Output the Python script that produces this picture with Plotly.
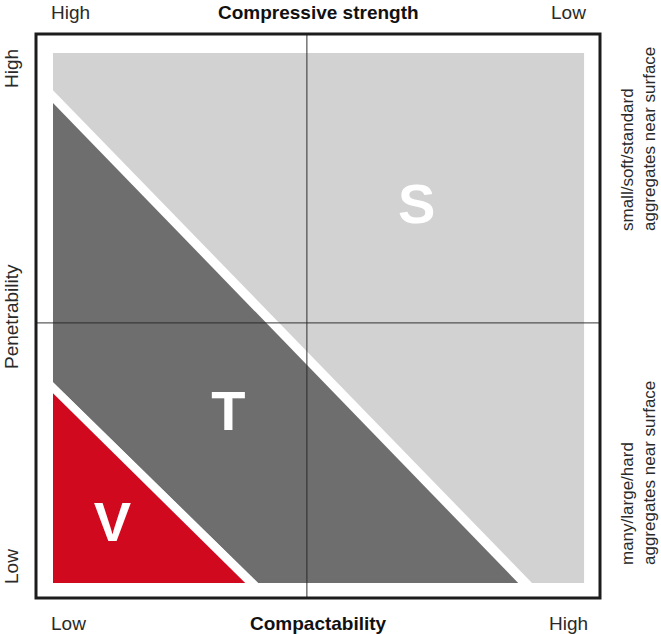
import plotly.graph_objects as go

# zone outlines, in percent of the inner square
s_x = [0, 100, 100, 0]
s_y = [0, 0, 100, 100]
gap_x = [0, 90.2, 0]
gap_y = [0, 0, 93.0]
t_x = [0, 87.6, 38.6, 0]
t_y = [90.6, 0, 0, 37.9]
gap2_x = [0, 38.6, 0]
gap2_y = [0, 0, 37.9]
v_x = [0, 36.2, 0]
v_y = [0, 0, 35.8]

zone_labels = ["S", "T", "V"]
zone_lx = [68.5, 33.0, 11.2]
zone_ly = [70.5, 31.5, 10.5]

cross_x = 47.8
cross_y = 49.1

LIGHT = "#d2d2d2"
DARK = "#6e6e6e"
RED = "#d0091f"

fig = go.Figure()


def poly(xs, ys, color):
    fig.add_trace(go.Scatter(x=xs, y=ys, fill="toself", fillcolor=color,
                             mode="lines", line=dict(width=0),
                             hoverinfo="skip", showlegend=False))


poly(s_x, s_y, LIGHT)
poly(gap_x, gap_y, "white")
poly(t_x, t_y, DARK)
poly(gap2_x, gap2_y, "white")
poly(v_x, v_y, RED)

fig.add_trace(go.Scatter(
    x=zone_lx, y=zone_ly, mode="text", text=zone_labels,
    textfont=dict(family="Liberation Sans", size=56, color="white"),
    texttemplate="<b>%{text}</b>", hoverinfo="skip", showlegend=False))

shapes = [
    dict(type="line", xref="x", yref="paper", x0=cross_x, x1=cross_x, y0=0, y1=1,
         line=dict(color="rgba(40,40,40,0.75)", width=1.3), layer="above"),
    dict(type="line", xref="paper", yref="y", x0=0, x1=1, y0=cross_y, y1=cross_y,
         line=dict(color="rgba(40,40,40,0.75)", width=1.3), layer="above"),
    dict(type="rect", xref="paper", yref="paper", x0=0, x1=1, y0=0, y1=1,
         line=dict(color="#1c1c1c", width=3), layer="above"),
]

W, H = 661, 634
L, T, R, B = 36, 34, 600, 598

font = dict(family="Liberation Sans", size=19, color="#2a2a2a")
bold = dict(family="Liberation Sans", size=19, color="#111")
side = dict(family="Liberation Sans", size=17, color="#2a2a2a")


def px(xp):
    return (xp - L) / (R - L)


def py(yp):
    return (B - yp) / (B - T)


def note(text, x, y, f=font, angle=0, xa="center", ya="middle", **kw):
    return dict(text=text, x=px(x), y=py(y), xref="paper", yref="paper",
                showarrow=False, font=f, textangle=angle,
                xanchor=xa, yanchor=ya, **kw)


annotations = [
    note("High", 70, 12),
    note("<b>Compressive strength</b>", 318, 12, bold),
    note("Low", 568, 12),
    note("Low", 68, 623),
    note("<b>Compactability</b>", 318, 623, bold),
    note("High", 568, 623),
    note("High", 11, 69, angle=-90),
    note("Penetrability", 11, 317, angle=-90),
    note("Low", 11, 567, angle=-90),
    note("small/soft/standard<br>aggregates near surface", 638, 233, side,
         angle=-90, align="left", ya="bottom"),
    note("many/large/hard<br>aggregates near surface", 638, 567, side,
         angle=-90, align="left", ya="bottom"),
]

fig.update_layout(
    width=W, height=H,
    margin=dict(l=L, r=W - R, t=T, b=H - B),
    paper_bgcolor="white", plot_bgcolor="white",
    xaxis=dict(range=[-3.2, 103.0], visible=False, fixedrange=True),
    yaxis=dict(range=[-2.83, 103.6], visible=False, fixedrange=True),
    shapes=shapes, annotations=annotations,
)

# drop the browser's default 8px body margin so the figure sits at 0,0
fig.write_html("out.html", config={"displayModeBar": False},
               post_script="document.body.style.margin='0';")
